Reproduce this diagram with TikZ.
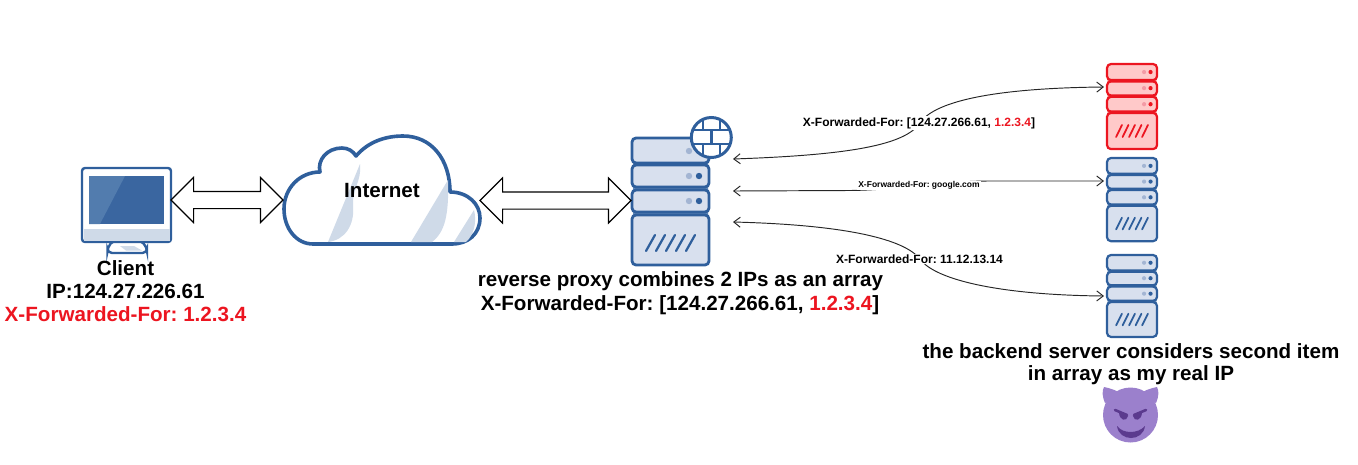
\documentclass[tikz,border=0pt]{standalone}
\usepackage{fontspec}
\setmainfont{Liberation Sans}
\usetikzlibrary{shapes.arrows,arrows.meta}
\definecolor{ib}{HTML}{2F5F9C}
\definecolor{ibf}{HTML}{D8E0EE}
\definecolor{ibb}{HTML}{5F87B8}
\definecolor{ibd}{HTML}{A3B5D3}
\definecolor{ic}{HTML}{CFDAE8}
\definecolor{scr}{HTML}{3A66A0}
\definecolor{scl}{HTML}{527CAE}
\definecolor{rd}{HTML}{EC1520}
\definecolor{rf}{HTML}{FFC9C9}
\definecolor{rb}{HTML}{F86A6A}
\definecolor{rdl}{HTML}{F39AA5}
\definecolor{dv}{HTML}{9B80CC}
\definecolor{dvd}{HTML}{5B3A8E}
\tikzset{
  lbl/.style={inner sep=0pt,font=\bfseries\fontsize{20.6}{24}\selectfont,align=center},
  smlbl/.style={inner sep=1pt,fill=white,font=\bfseries\fontsize{#1}{14}\selectfont},
  dbl/.style={shape=double arrow,draw=black,fill=white,line width=1.1pt,double arrow head extend=14pt,
     inner xsep=0pt,inner ysep=8pt,outer sep=0pt,minimum width=44pt,double arrow head indent=0pt},
  conn/.style={draw=black!85,line width=.95pt,arrows={Straight Barb[length=6.5pt,width=10pt]-Straight Barb[length=6.5pt,width=10pt]}},
}
% x y xscale yscale linewidth line fill band dotlight
\def\srvrows{0/25,27/49,52/74,77/127}
\def\srvdots{13,38,63}
\def\srvlo{113}\def\srvhi{97}
\newcommand{\srv}[9]{%
\begin{scope}[shift={(#1,#2)},xscale=#3,yscale=#4]
  \fill[#8,rounded corners=3pt] (1,3) rectangle (76,124);
  \foreach \a/\b in \srvrows{
    \draw[#6,fill=#7,line width=#5,rounded corners=4pt] (0,\a) rectangle (77,\b);}
  \foreach \c in \srvdots{
    \fill[#9] (57,\c) circle (3.2pt);
    \fill[#6] (67,\c) circle (3.2pt);}
  \foreach \s in {14,24,34,44,54}{
    \draw[#6,line width=#5*0.8,line cap=round] (\s,\srvlo) -- (\s+9,\srvhi);}
\end{scope}}
\begin{document}
\frenchspacing
\begin{tikzpicture}[x=1pt,y=-1pt]
\useasboundingbox (0,0) rectangle (1358,464);
% monitor
\draw[ib,fill=white,line width=2.4pt,rounded corners=4.5pt] (114,240) -- (107.5,247) -- (107.5,253) -- (147,253) -- (147,247) -- (140,240) -- cycle;
\fill[ic] (120,246) -- (134,246) -- (142,250.5) -- (126,250.5) -- cycle;
\draw[ib,fill=white,line width=2.4pt,rounded corners=3pt] (82,168) rectangle (171,242);
\fill[ic] (83.5,229) -- (169.5,229) -- (169.5,240.5) -- (83.5,240.5) -- cycle;
\fill[scr] (89,176) rectangle (164,224);
\fill[scl] (89,176) -- (125,176) -- (100,224) -- (89,224) -- cycle;
% cloud
\draw[ib,fill=white,line width=3.6pt,line join=round] (313,244) .. controls (296,244) and (284,228) .. (284,209) .. controls (284,188) and (300,172) .. (320,172) .. controls (317,160) and (327,148) .. (342,148) .. controls (348,148) and (353,151) .. (356,156) .. controls (368,142) and (385,136) .. (403,136) .. controls (432,136) and (450,160) .. (450,192) .. controls (468,192) and (480,204) .. (480,218) .. controls (480,234) and (468,244) .. (452,244) -- cycle;
\fill[ic] (360,164) -- (328,242) .. controls (345,240) and (355,225) .. (353,205) .. controls (352,190) and (362,180) .. (360,164) -- cycle;
\fill[ic] (448,180) -- (411,242) -- (432,242) .. controls (445,232) and (449,215) .. (448,180) -- cycle;
\fill[ic] (474,210) -- (454,242) -- (466,242) .. controls (474,235) and (477,222) .. (474,210) -- cycle;
% servers
\srv{632}{138}{1}{1}{2.8pt}{ib}{ibf}{ibb}{ibd}
\def\srvrows{0/24,26/47,49/71,73/127}
\def\srvdots{12,36,60}
\def\srvlo{109}\def\srvhi{91}
\srv{1107}{64}{0.65}{0.67}{2.2pt}{rd}{rf}{rb}{rdl}
\srv{1107}{158}{0.65}{0.655}{2.2pt}{ib}{ibf}{ibb}{ibd}
\srv{1107}{255}{0.65}{0.645}{2.2pt}{ib}{ibf}{ibb}{ibd}
% firewall
\begin{scope}
  \draw[ib,fill=white,line width=3pt] (711.3,137.5) circle (20);
  \clip (711.3,137.5) circle (20);
  \draw[ib,line width=2.4pt] (688,130) -- (734,130) (688,144) -- (734,144)
    (703,116) -- (703,130) (720,116) -- (720,130)
    (711.5,130) -- (711.5,144)
    (703,144) -- (703,158) (720,144) -- (720,158);
\end{scope}
% double arrows
\node[dbl,minimum height=112pt] (arrA) at (227,200) {};
\node[dbl,minimum height=151pt] (arrB) at (555.5,200.5) {};
% connectors
\coordinate (p1) at (733,159);
\coordinate (p2) at (733,191);
\coordinate (p3) at (733,222);
\coordinate (s1) at (1104,87);
\coordinate (s2) at (1104,181);
\coordinate (s3) at (1104,296);
\draw[conn] (p1) .. controls (850,155) and (905,145) .. (920,123) .. controls (935,100) and (1000,88) .. (s1);
\draw[conn] (p2) -- (850,190.5) .. controls (900,190) and (940,181) .. (990,181) -- (s2);
\draw[conn] (p3) .. controls (850,225) and (905,240) .. (920,259) .. controls (935,280) and (1000,295) .. (s3);
\node[smlbl=12] (l1) at (919,123) {X-Forwarded-For: [124.27.266.61, \textcolor{rd}{1.2.3.4}]};
\node[smlbl=8.5] (l2) at (919,185.5) {X-Forwarded-For: google.com};
\node[smlbl=12] (l3) at (919.5,259) {X-Forwarded-For: 11.12.13.14};
% labels
\node[lbl] (client) at (125.5,268) {Client};
\node[lbl] (ip) at (125.5,291) {IP:124.27.226.61};
\node[lbl,text=rd] (xff) at (125.5,314) {X-Forwarded-For: 1.2.3.4};
\node[lbl] (inet) at (382,191) {Internet};
\node[lbl] (rp1) at (680.5,281) {reverse proxy combines 2 IPs as an array};
\node[lbl] (rp2) at (680,305) {X-Forwarded-For: [124.27.266.61, \textcolor{rd}{1.2.3.4}]};
\node[lbl] (be1) at (1131,351) {the backend server considers second item};
\node[lbl] (be2) at (1131,375) {in array as my real IP};
% devil
\fill[dv] (1105,403) .. controls (1102,396) and (1102,391) .. (1104,387) .. controls (1110,388) and (1118,391) .. (1124,395) -- cycle;
\fill[dv] (1156,403) .. controls (1159,396) and (1159,391) .. (1157,387) .. controls (1151,388) and (1143,391) .. (1137,395) -- cycle;
\fill[dv] (1130.5,415) circle (27.5);
\draw[dvd,line width=2.6pt,line cap=round] (1115,410) -- (1127,415);
\draw[dvd,line width=2.6pt,line cap=round] (1146,410) -- (1134,415);
\fill[dvd] (1119,412) -- (1128,416) .. controls (1127,422) and (1119,421) .. (1119,412) -- cycle;
\fill[dvd] (1142,412) -- (1133,416) .. controls (1134,422) and (1142,421) .. (1142,412) -- cycle;
\fill[dvd] (1117,426) .. controls (1123,434) and (1138,434) .. (1145,426) .. controls (1143,442) and (1119,442) .. (1117,426) -- cycle;
\end{tikzpicture}
\end{document}
